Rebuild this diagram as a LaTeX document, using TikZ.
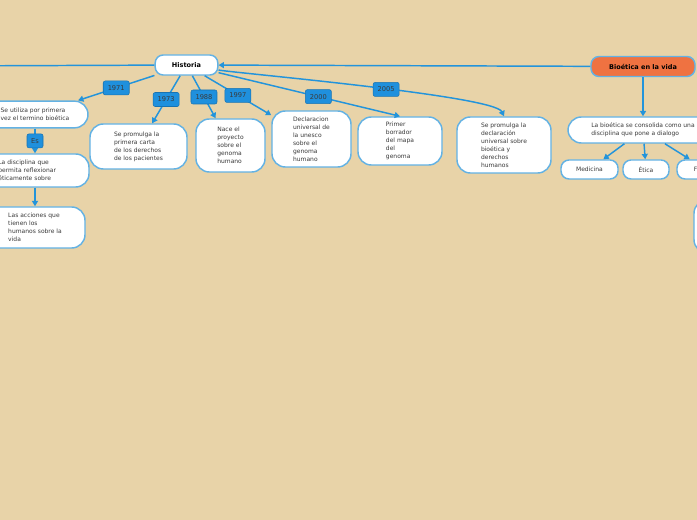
\documentclass[tikz,border=0pt]{standalone}
\usepackage{fontspec}
\setmainfont{DejaVu Sans}
\usepackage{tikz}
\usetikzlibrary{calc,positioning,arrows.meta}

\definecolor{fondo}{HTML}{E8D3A8}
\definecolor{linea}{HTML}{2394DB}
\definecolor{borde}{HTML}{63B2E4}
\definecolor{anio}{HTML}{1F90DD}
\definecolor{naranja}{HTML}{EF7241}
\definecolor{texto}{HTML}{3A3A3A}

\begin{document}
\begin{tikzpicture}[x=0.75pt,y=-0.75pt,
	caja/.style={draw=borde, line width=1.1pt, fill=white, rounded corners=10pt,
		align=left, inner sep=0pt, text=texto, font=\fontsize{4.5}{6}\selectfont},
	chica/.style={caja, rounded corners=6pt, minimum height=14.25pt},
	raiz/.style={caja, rounded corners=6pt, text=black, minimum height=15pt,
		font=\fontsize{4.9}{6}\selectfont\bfseries},
	anio/.style={fill=anio, draw=anio!80!black, line width=0.4pt, rounded corners=1.5pt,
		minimum width=19.5pt, minimum height=10.5pt, inner sep=0pt, text=texto,
		font=\fontsize{5}{6}\selectfont},
	flecha/.style={draw=linea, line width=1.1pt, -{Triangle[length=4pt,width=4.5pt]}}]
		% Background
		\useasboundingbox (0,0) rectangle (697,520);
		\fill[fondo] (0,0) rectangle (697,520);
		\clip (0,0) rectangle (697,520);
		
		% Main nodes
		\node[raiz, minimum width=47pt] (hist) at (186.5,65) {Historia};
		\node[raiz, fill=naranja, minimum width=78pt] (bio) at (643,66.5) {Bioética en la vida};
		\coordinate (izq) at (-60,66);
		
		% Historia branch
		\node[caja, minimum width=79.5pt, minimum height=20pt] (utiliza) at (35,114.5)
			{Se utiliza por primera\\vez el termino bioética};
		\node[caja, minimum width=81pt, minimum height=24.75pt, text width=55pt] (disciplina) at (35,170.5)
			{La disciplina que\\permita reflexionar\\éticamente sobre};
		\node[caja, minimum width=75pt, minimum height=30.75pt] (acciones) at (35,227.5)
			{Las acciones que\\tienen los\\humanos sobre la\\vida};
		\node[caja, minimum width=72.75pt, minimum height=33.75pt] (carta) at (138.5,146.5)
			{Se promulga la\\primera carta\\de los derechos\\de los pacientes};
		\node[caja, minimum width=51.75pt, minimum height=39.75pt] (genoma) at (230.5,145.5)
			{Nace el\\proyecto\\sobre el\\genoma\\humano};
		\node[caja, minimum width=59.25pt, minimum height=42pt] (unesco) at (311.5,139)
			{Declaracion\\universal de\\la unesco\\sobre el\\genoma\\humano};
		\node[caja, minimum width=63pt, minimum height=36pt] (borrador) at (400,141)
			{Primer\\borrador\\del mapa\\del\\genoma};
		\node[caja, minimum width=70.5pt, minimum height=42pt] (declaracion) at (504,145)
			{Se promulga la\\declaración\\universal sobre\\bioética y\\derechos\\humanos};
		
		% Bioetica branch
		\node[caja, minimum width=112.5pt, minimum height=19.5pt] (consolida) at (643,130)
			{La bioética se consolida como una\\disciplina que pone a dialogo};
		\node[chica, minimum width=42.75pt] (medicina) at (589.5,169.5) {Medicina};
		\node[chica, minimum width=34.5pt] (etica) at (646,169.5) {Ética};
		\node[chica, minimum width=43.5pt] (filosofia) at (706,169.5) {Filosofía};
		\node[caja, minimum width=99pt, minimum height=39.75pt] (otra) at (760,226.5) {};
		
		% Connectors
		\draw[flecha, -] (hist) -- (izq);
		\draw[flecha] (bio) -- (hist);
		\draw[flecha] (hist) -- node[anio] {1971} (utiliza);
		\draw[flecha] (hist) -- node[anio] {1973} (carta);
		\draw[flecha] (hist) -- node[anio] {1988} (genoma);
		\draw[flecha] (hist) -- node[anio] {1997} (unesco);
		\draw[flecha] (hist) -- node[anio, pos=0.55] {2000} (borrador.north);
		\draw[flecha] (hist) to[out=-9, in=115, looseness=0.2] node[anio, pos=0.55] {2005} (declaracion.north);
		\draw[flecha] (utiliza) -- node[anio, minimum width=12pt] {Es} (disciplina);
		\draw[flecha] (disciplina) -- (acciones);
		\draw[flecha] (bio) -- (consolida);
		\draw[flecha] (consolida) -- (medicina);
		\draw[flecha] (consolida) -- (etica);
		\draw[flecha] (consolida) -- (filosofia);
	\end{tikzpicture}
\end{document}
